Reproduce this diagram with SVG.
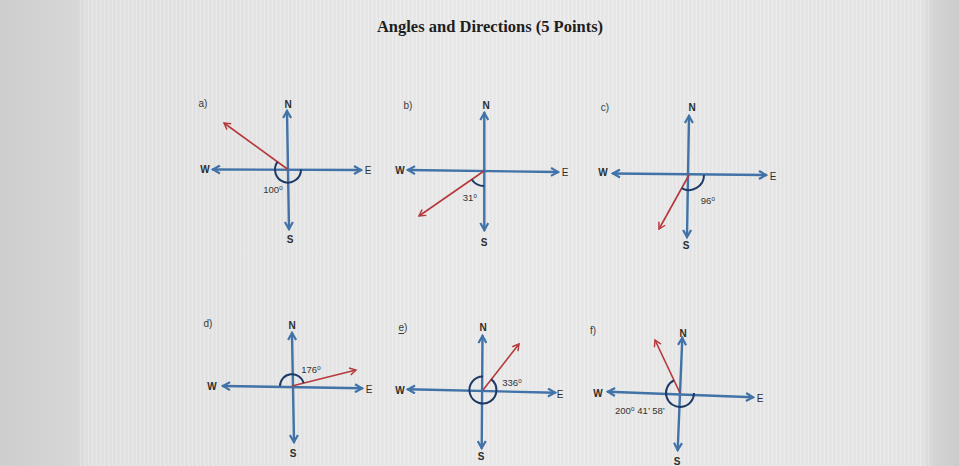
<svg xmlns="http://www.w3.org/2000/svg" width="959" height="466" viewBox="0 0 959 466">
<defs>
<style>
.ax{stroke:#4172a8;stroke-width:2.4;fill:none;stroke-linecap:round}
.rd{stroke:#b5383b;stroke-width:1.6;fill:none}
.arc{stroke:#1d3a66;stroke-width:2;fill:none}
.lb{font-family:"Liberation Sans","DejaVu Sans",sans-serif;font-size:10px;fill:#2e2e2e;text-anchor:middle;dominant-baseline:central}
.b{font-weight:bold}
.pl{font-family:"Liberation Sans","DejaVu Sans",sans-serif;font-size:10px;fill:#3a3a3a;text-anchor:middle;dominant-baseline:central}
.ang{font-family:"Liberation Sans","DejaVu Sans",sans-serif;font-size:9.5px;fill:#333;text-anchor:middle;dominant-baseline:central}
</style>
<marker id="ba" viewBox="0 0 10 10" refX="8" refY="5" markerWidth="10" markerHeight="10" markerUnits="userSpaceOnUse" orient="auto-start-reverse">
<path d="M1,1 L8,5 L1,9" fill="none" stroke="#4172a8" stroke-width="2.2" stroke-linejoin="miter"/>
</marker>
<marker id="ra" viewBox="0 0 10 10" refX="8" refY="5" markerWidth="9" markerHeight="9" markerUnits="userSpaceOnUse" orient="auto">
<path d="M1,1 L8,5 L1,9" fill="none" stroke="#b5383b" stroke-width="1.6"/>
</marker>
<linearGradient id="bg" x1="0" y1="0" x2="1" y2="0">
<stop offset="0" stop-color="#cdcecd"/>
<stop offset="0.08" stop-color="#d6d7d6"/>
<stop offset="0.09" stop-color="#e0e1e0"/>
<stop offset="0.5" stop-color="#e8e9e8"/>
<stop offset="0.96" stop-color="#e4e5e4"/>
<stop offset="0.975" stop-color="#d2d3d2"/>
<stop offset="1" stop-color="#cbcccb"/>
</linearGradient>
<pattern id="st" width="4" height="10" patternUnits="userSpaceOnUse">
<rect x="0" y="0" width="1" height="10" fill="#ffffff" opacity="0.2"/>
<rect x="2" y="0" width="1" height="10" fill="#c8c9c8" opacity="0.12"/>
</pattern>
</defs>
<rect width="959" height="466" fill="url(#bg)"/>
<rect x="80" y="0" width="850" height="466" fill="url(#st)"/>
<text x="490" y="32" font-family="Liberation Serif, serif" font-weight="bold" font-size="16.5" fill="#1e1e1e" text-anchor="middle">Angles and Directions (5 Points)</text>

<g id="connectors">
<!-- a -->
<line class="ax" x1="287" y1="111" x2="289" y2="229" marker-start="url(#ba)" marker-end="url(#ba)"/>
<line class="ax" x1="213" y1="169.5" x2="361" y2="170" marker-start="url(#ba)" marker-end="url(#ba)"/>
<line class="rd" x1="288" y1="169.5" x2="224" y2="123" marker-end="url(#ra)"/>
<!-- b -->
<line class="ax" x1="484.3" y1="113" x2="484.3" y2="230" marker-start="url(#ba)" marker-end="url(#ba)"/>
<line class="ax" x1="408" y1="170" x2="558" y2="172" marker-start="url(#ba)" marker-end="url(#ba)"/>
<line class="rd" x1="484" y1="171" x2="419" y2="216" marker-end="url(#ra)"/>
<!-- c -->
<line class="ax" x1="689" y1="116" x2="687" y2="237" marker-start="url(#ba)" marker-end="url(#ba)"/>
<line class="ax" x1="613" y1="173.5" x2="766" y2="175" marker-start="url(#ba)" marker-end="url(#ba)"/>
<line class="rd" x1="689" y1="175" x2="659" y2="229" marker-end="url(#ra)"/>
<!-- d -->
<line class="ax" x1="292" y1="333" x2="294" y2="442" marker-start="url(#ba)" marker-end="url(#ba)"/>
<line class="ax" x1="223" y1="386" x2="362" y2="388.3" marker-start="url(#ba)" marker-end="url(#ba)"/>
<line class="rd" x1="292" y1="386" x2="356" y2="370" marker-end="url(#ra)"/>
<!-- e -->
<line class="ax" x1="482.5" y1="336" x2="481.7" y2="448" marker-start="url(#ba)" marker-end="url(#ba)"/>
<line class="ax" x1="408" y1="389.3" x2="555" y2="392.7" marker-start="url(#ba)" marker-end="url(#ba)"/>
<line class="rd" x1="483" y1="390" x2="519" y2="344" marker-end="url(#ra)"/>
<!-- f -->
<line class="ax" x1="682.3" y1="338" x2="677.7" y2="450" marker-start="url(#ba)" marker-end="url(#ba)"/>
<line class="ax" x1="608" y1="391.7" x2="753" y2="397.3" marker-start="url(#ba)" marker-end="url(#ba)"/>
<line class="rd" x1="680" y1="393" x2="655" y2="340" marker-end="url(#ra)"/>
</g>

<g id="panel-a">
<path class="arc" d="M277.5,161.9 A13,13 0 1 0 301,169.5"/>
<text class="pl" x="203" y="103">a)</text>
<text class="lb b" x="288" y="104">N</text>
<text class="lb b" x="205" y="169.5">W</text>
<text class="lb" x="368" y="170">E</text>
<text class="lb b" x="290" y="239">S</text>
<text class="ang" x="273" y="189">100⁰</text>
</g>

<g id="panel-b">
<path class="arc" d="M471.7,179.5 A15,15 0 0 0 484,186"/>
<text class="pl" x="408" y="105">b)</text>
<text class="lb b" x="486" y="105">N</text>
<text class="lb b" x="400" y="170">W</text>
<text class="lb" x="565" y="172">E</text>
<text class="lb b" x="484" y="242">S</text>
<text class="ang" x="470" y="197">31⁰</text>
</g>

<g id="panel-c">
<path class="arc" d="M681.7,188.1 A15,15 0 0 0 704,175"/>
<text class="pl" x="605" y="107">c)</text>
<text class="lb b" x="692" y="107">N</text>
<text class="lb b" x="603" y="172.5">W</text>
<text class="lb" x="773" y="176">E</text>
<text class="lb b" x="686" y="245">S</text>
<text class="ang" x="708" y="200">96⁰</text>
</g>

<g id="panel-d">
<path class="arc" d="M280,386 A12,12 0 0 1 303.6,383.1"/>
<text class="pl" x="208" y="323">d)</text>
<text class="lb b" x="292" y="325">N</text>
<text class="lb b" x="212" y="386">W</text>
<text class="lb" x="369" y="389">E</text>
<text class="lb b" x="293" y="453">S</text>
<text class="ang" x="311" y="369">176⁰</text>
</g>

<g id="panel-e">
<path class="arc" d="M491.3,379.4 A13.5,13.5 0 1 1 483,376.5"/>
<text class="pl" x="403" y="327"><tspan text-decoration="underline">e</tspan>)</text>
<text class="lb b" x="483" y="327">N</text>
<text class="lb b" x="400" y="390">W</text>
<text class="lb" x="560" y="394">E</text>
<text class="lb b" x="481" y="456">S</text>
<text class="ang" x="512" y="382">336⁰</text>
</g>

<g id="panel-f">
<path class="arc" d="M674,380.3 A14,14 0 1 0 694,393"/>
<text class="pl" x="593" y="330">f)</text>
<text class="lb b" x="683" y="333">N</text>
<text class="lb b" x="598" y="393">W</text>
<text class="lb" x="760" y="398">E</text>
<text class="lb b" x="677" y="461">S</text>
<text class="ang" x="640" y="410">200⁰ 41’ 58’</text>
</g>
</svg>
